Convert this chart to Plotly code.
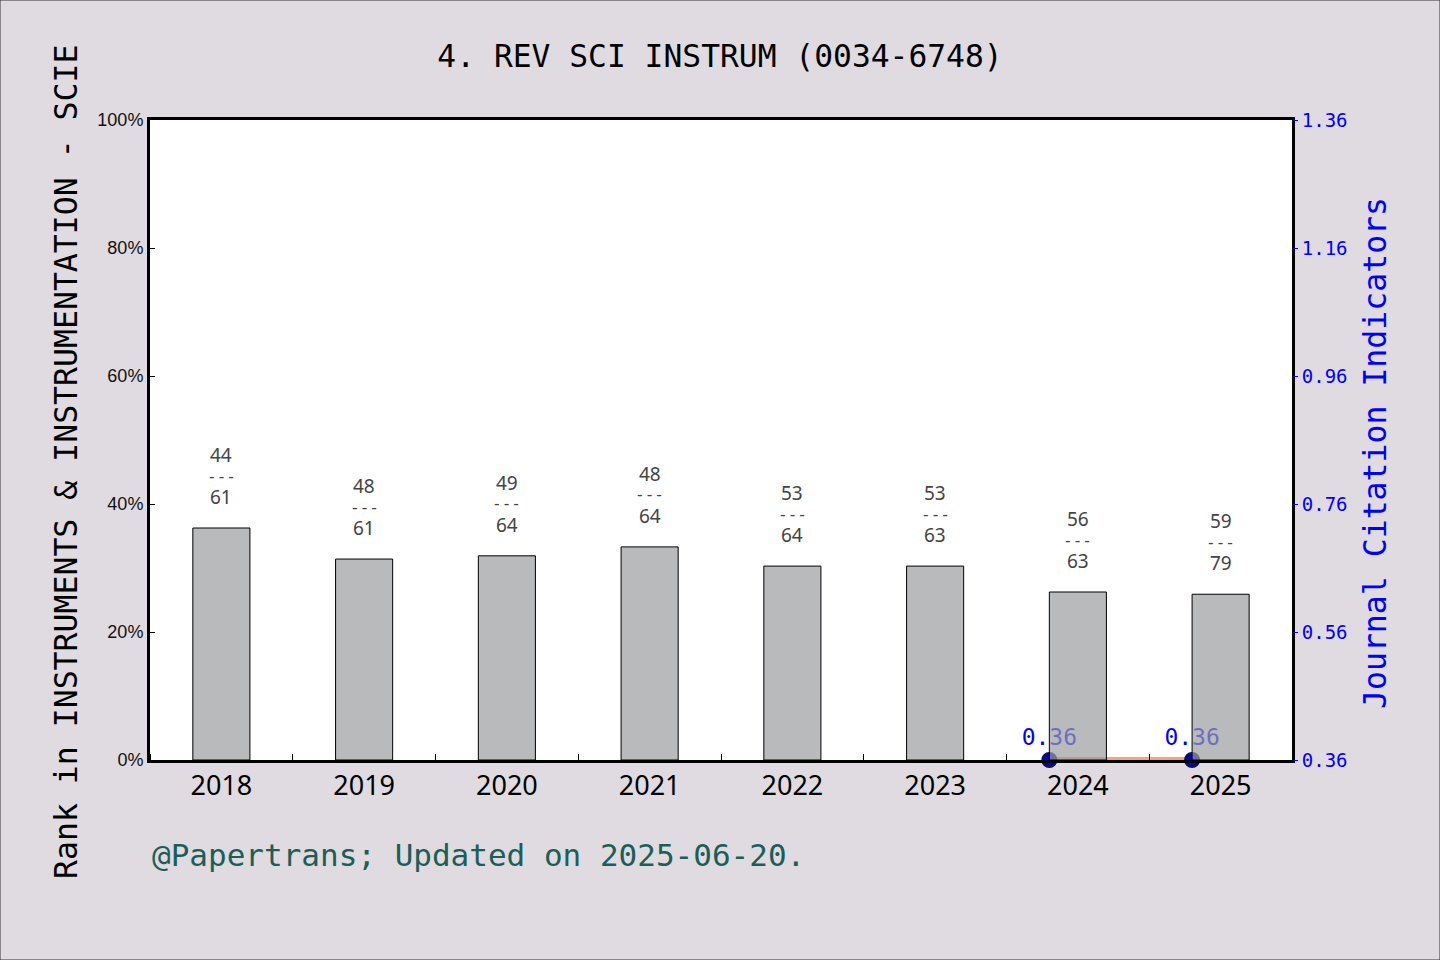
import plotly.graph_objects as go

# chart values
years = [2018, 2019, 2020, 2021, 2022, 2023, 2024, 2025]
rank_pct = [0.3625, 0.314, 0.319, 0.333, 0.303, 0.303, 0.2625, 0.259]
rank_top = [44, 48, 49, 48, 53, 53, 56, 59]
rank_bottom = [61, 61, 64, 64, 64, 63, 63, 79]
jci_years = [2024, 2025]
jci = [0.36, 0.36]

title = "4. REV SCI INSTRUM (0034-6748)"
left_title = "Rank in INSTRUMENTS & INSTRUMENTATION - SCIE"
right_title = "Journal Citation Indicators"
footer = "@Papertrans; Updated on 2025-06-20."

W, H = 1440, 960
ML, MR, MT, MB = 150, 148, 120, 200
PW, PH = W - ML - MR, H - MT - MB

mono = "DejaVu Sans Mono"
sans = "Noto Sans"
bg = "#dfdbe0"

fig = go.Figure()

# JCI line sits on the base axis (right side), bars overlay it
fig.add_trace(
    go.Scatter(
        x=[y - 0.2 for y in jci_years],
        y=jci,
        yaxis="y",
        mode="lines+markers+text",
        text=[f"{v:.2f}" for v in jci],
        textposition="top center",
        textfont=dict(family=mono, size=23, color="#0000ff"),
        line=dict(color="#f7a27e", width=6),
        marker=dict(size=14, color="#0000d0", line=dict(color="#10104a", width=2)),
        cliponaxis=False,
        showlegend=False,
    )
)

fig.add_trace(
    go.Bar(
        x=years,
        y=rank_pct,
        yaxis="y2",
        width=0.4,
        marker=dict(color="rgba(155,156,159,0.7)", line=dict(color="black", width=1)),
        showlegend=False,
    )
)

annotations = []
for yr, v, a, b in zip(years, rank_pct, rank_top, rank_bottom):
    for txt, shift, fam, size in ((str(a), 73, sans, 19), ("---", 52, mono, 16), (str(b), 31, sans, 19)):
        annotations.append(
            dict(
                x=yr, y=v, xref="x", yref="y2", text=txt, showarrow=False,
                yanchor="middle", yshift=shift,
                font=dict(family=fam, size=size, color="#444444"),
            )
        )

annotations += [
    dict(
        x=(66 - ML) / PW, y=(H - MB - 462) / PH, xref="paper", yref="paper",
        xanchor="center", yanchor="middle",
        text=left_title, textangle=-90, showarrow=False,
        font=dict(family=mono, size=31.5, color="black"),
    ),
    dict(
        x=(1375 - ML) / PW, y=(H - MB - 453) / PH, xref="paper", yref="paper",
        xanchor="center", yanchor="middle",
        text=right_title, textangle=-90, showarrow=False,
        font=dict(family=mono, size=31.5, color="#0000ff"),
    ),
    dict(
        x=0, y=(H - MB - 855) / PH, xref="paper", yref="paper",
        xanchor="left", yanchor="middle", text=footer, showarrow=False,
        font=dict(family=mono, size=31, color="#1b5e57"),
    ),
]

fig.update_layout(
    width=W,
    height=H,
    margin=dict(l=ML, r=MR, t=MT, b=MB),
    paper_bgcolor=bg,
    plot_bgcolor="white",
    title=dict(
        text=title, x=0.5, xanchor="center", y=1 - 56 / H, yanchor="middle",
        font=dict(family=mono, size=31.3, color="black"),
    ),
    xaxis=dict(
        range=[2017.5, 2025.5],
        tickvals=years,
        ticktext=[str(y) for y in years],
        ticks="",
        tickfont=dict(family=sans, size=27, color="black"),
        showgrid=False,
        zeroline=False,
        showline=True,
        linecolor="black",
        linewidth=3,
        mirror=True,
        minor=dict(tick0=2017.5, dtick=1, ticks="inside", ticklen=6, tickwidth=1, tickcolor="black"),
    ),
    yaxis=dict(
        side="right",
        range=[0.36, 1.36],
        tickvals=[0.36, 0.56, 0.76, 0.96, 1.16, 1.36],
        ticktext=["0.36", "0.56", "0.76", "0.96", "1.16", "1.36"],
        ticks="outside",
        ticklen=5,
        tickcolor="#0000ff",
        tickfont=dict(family=mono, size=19, color="#0000ff"),
        showgrid=False,
        zeroline=False,
        showline=False,
    ),
    yaxis2=dict(
        side="left",
        overlaying="y",
        range=[0, 1],
        tickvals=[0, 0.2, 0.4, 0.6, 0.8, 1.0],
        tickformat=".0%",
        ticks="inside",
        ticklen=5,
        tickcolor="black",
        tickfont=dict(family="Liberation Sans", size=18, color="#111111"),
        showgrid=False,
        zeroline=False,
        showline=True,
        linecolor="black",
        linewidth=3,
        mirror=True,
    ),
    annotations=annotations,
    shapes=[
        dict(
            type="rect", xref="paper", yref="paper",
            x0=-ML / PW, x1=1 + MR / PW, y0=-MB / PH, y1=1 + MT / PH,
            line=dict(color="#333333", width=1), fillcolor="rgba(0,0,0,0)",
            layer="below",
        )
    ],
)

fig.write_html(
    "out.html",
    config={"displayModeBar": False},
    post_script="document.body.style.margin='0px';",
)
